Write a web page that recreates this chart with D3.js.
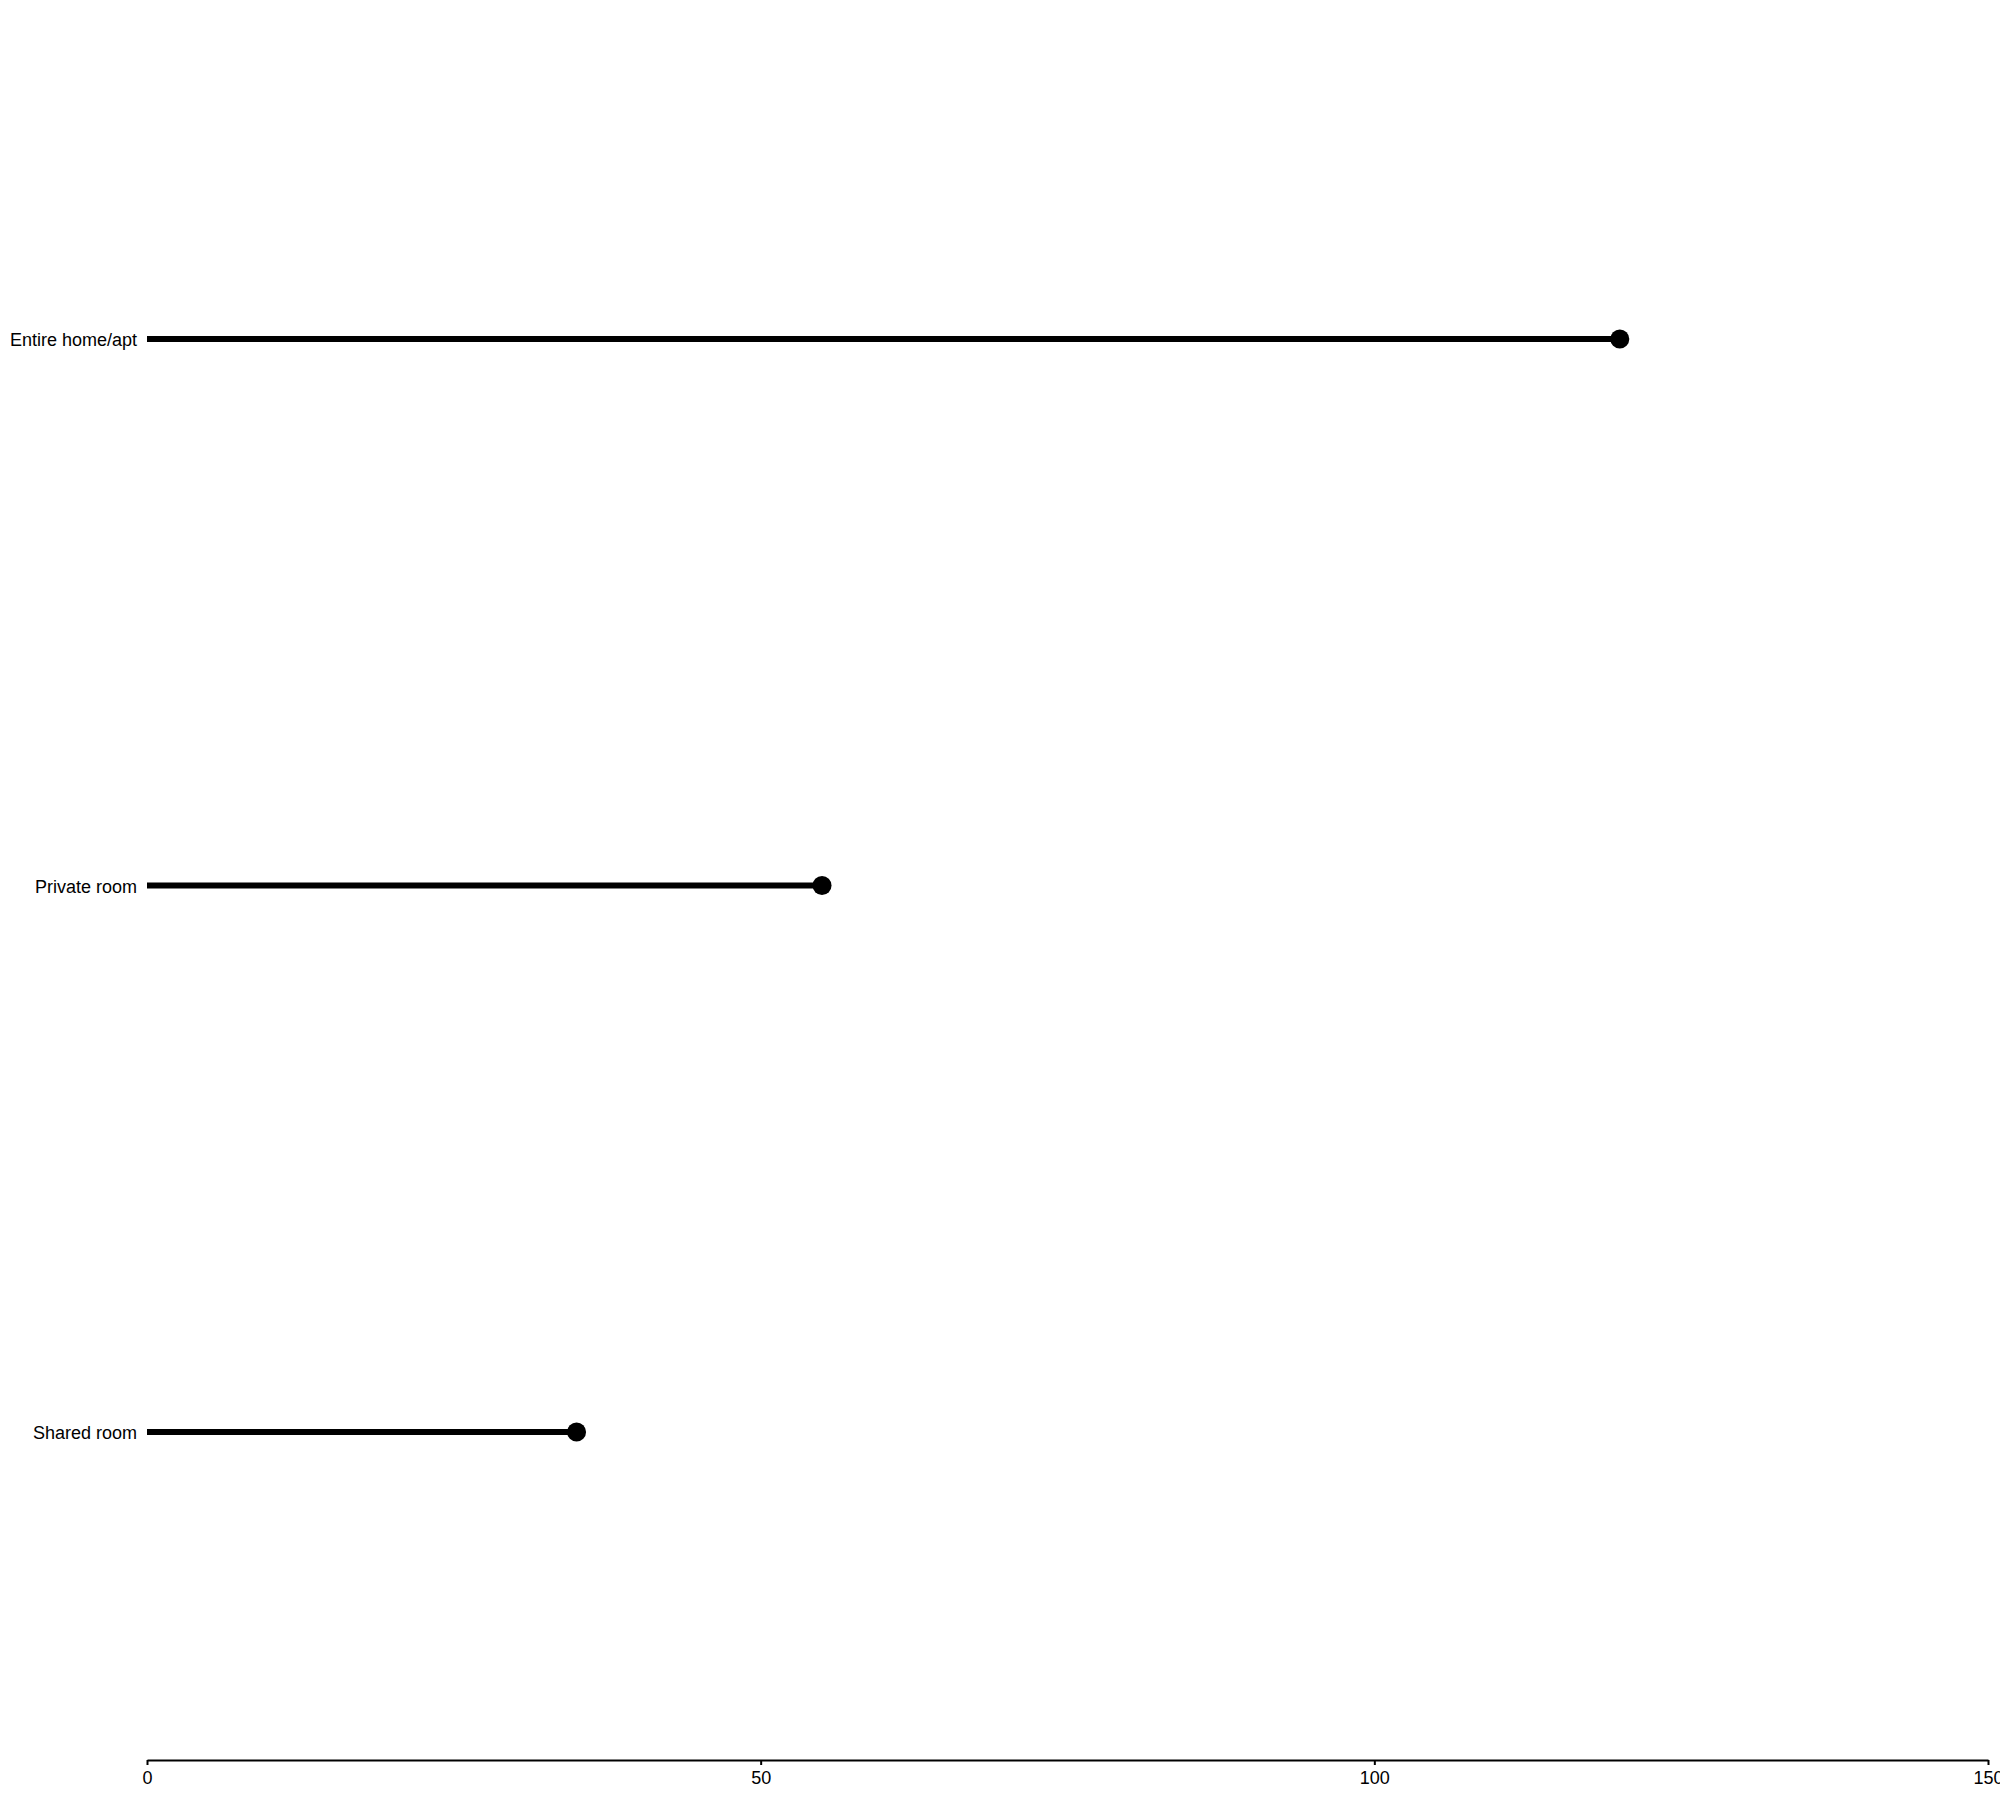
<!DOCTYPE html>
<html>
<head>
<meta charset="utf-8">
<script src="https://cdn.jsdelivr.net/npm/d3@7"></script>
<style>
  html, body { margin: 0; padding: 0; background: #ffffff; }
  svg { display: block; }
</style>
</head>
<body>
<svg id="chart" width="2000" height="1800"></svg>
<script>
const categories = ["Entire home/apt", "Private room", "Shared room"];
const values = [120, 55, 35];
const xTicks = [0, 50, 100, 150];

const svg = d3.select("#chart");
const font = "'Liberation Sans', Arial, sans-serif";

const x = d3.scaleLinear().domain([0, 150]).range([147, 1988]);
const y = d3.scalePoint().domain(categories).range([339, 1432]);

const data = categories.map((c, i) => ({ cat: c, val: values[i] }));

// stems
svg.append("g").selectAll("line")
  .data(data).join("line")
  .attr("x1", x(0))
  .attr("x2", d => x(d.val))
  .attr("y1", d => y(d.cat))
  .attr("y2", d => y(d.cat))
  .attr("stroke", "#000")
  .attr("stroke-width", 6);

// dots
svg.append("g").selectAll("circle")
  .data(data).join("circle")
  .attr("cx", d => x(d.val))
  .attr("cy", d => y(d.cat))
  .attr("r", 9.5)
  .attr("fill", "#000");

// category labels
svg.append("g").selectAll("text")
  .data(data).join("text")
  .attr("x", x(0) - 10)
  .attr("y", d => y(d.cat))
  .attr("dy", "0.4em")
  .attr("text-anchor", "end")
  .attr("font-family", font)
  .attr("font-size", 18)
  .attr("fill", "#000")
  .text(d => d.cat);

// x axis
const axis = svg.append("g")
  .attr("transform", "translate(0,1760)")
  .call(d3.axisBottom(x).tickValues(xTicks).tickFormat(d3.format("d")).tickSize(5).tickSizeOuter(0).tickPadding(6));
axis.select(".domain").attr("stroke", "#000").attr("stroke-width", 2);
axis.selectAll(".tick line").attr("stroke", "#000").attr("stroke-width", 2);
axis.selectAll(".tick text")
  .attr("font-family", font)
  .attr("font-size", 18)
  .attr("fill", "#000");
</script>
</body>
</html>
